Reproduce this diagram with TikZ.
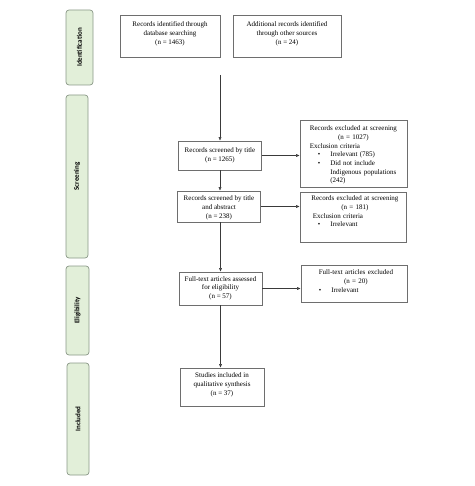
\documentclass[tikz,border=0pt]{standalone}
\usepackage{fontspec}
\setmainfont{Liberation Serif}
\setsansfont{Carlito}
\usepackage{tikz}
\definecolor{phasefill}{HTML}{E2EFD9}
\definecolor{phasedraw}{HTML}{8A9887}
\definecolor{boxdraw}{HTML}{6E6E6E}
\definecolor{linecolor}{HTML}{3A3A3A}
\tikzset{
  box_font/.style = {font=\fontsize{7}{9}\selectfont},
  excl_font/.style = {font=\fontsize{7}{8.7}\selectfont},
  phase_font/.style = {font=\sffamily\bfseries\fontsize{7}{8}\selectfont}
}
\tikzset{
  box/.style = {draw=boxdraw, line width=0.6pt, inner sep=0},
  box_text/.style = {box_font, align=center, anchor=north, inner sep=0, yshift=-6.5},
  excl_text/.style = {excl_font, align=left, anchor=north west, inner sep=0, xshift=10, yshift=-6},
  phase/.style = {phase_font, draw=phasedraw, fill=phasefill, line width=0.7pt, rounded corners=3, rotate=90, inner sep=0},
  arrow/.style = {draw=linecolor, line width=0.5pt, -{Latex[length=3.5pt, width=3pt]}}
}
\usetikzlibrary{arrows.meta, positioning}

\begin{document}
\begin{tikzpicture}[x=1pt, y=-1pt]
        \useasboundingbox (0,0) rectangle (474,486);

        % Phases
        \node[phase, minimum width=75, minimum height=27] at (79.5,47.5) (ph_id) {Identification};
        \node[phase, minimum width=163, minimum height=22] at (77,176.5) (ph_scr) {Screening};
        \node[phase, minimum width=89, minimum height=23] at (77.5,310.5) (ph_elig) {Eligibility};
        \node[phase, minimum width=112, minimum height=22] at (78,419) (ph_inc) {Included};

        % Main boxes
        \node[box, minimum width=100, minimum height=42] at (170,36) (db) {};
        \node[box_text] at (db.north) (db_txt) {
            Records identified through\\ database searching\\ (n = 1463)};
        \node[box, minimum width=108, minimum height=42] at (287,36) (other) {};
        \node[box_text] at (other.north) (other_txt) {
            Additional records identified\\ through other sources\\ (n = 24)};
        \node[box, minimum width=83, minimum height=29] at (220,155.5) (title) {};
        \node[box_text] at (title.north) (title_txt) {
            Records screened by title\\ (n = 1265)};
        \node[box, minimum width=83, minimum height=31] at (219,206.5) (abstract) {};
        \node[box_text, excl_font, yshift=1.5] at (abstract.north) (abstract_txt) {
            Records screened by title\\ and abstract\\ (n = 238)};
        \node[box, minimum width=83, minimum height=33] at (220.5,288.5) (fulltext) {};
        \node[box_text, excl_font, yshift=2] at (fulltext.north) (fulltext_txt) {
            Full-text articles assessed\\ for eligibility\\ (n = 57)};
        \node[box, minimum width=84, minimum height=38] at (222,387) (studies) {};
        \node[box_text, yshift=2] at (studies.north) (studies_txt) {
            Studies included in\\ qualitative synthesis\\ (n = 37)};

        % Excluded boxes
        \node[box, minimum width=107, minimum height=67] at (353.5,153.5) (excl_1) {};
        \node[excl_text, text width=87] at (excl_1.north west) (excl_1_txt) {
            \makebox[\linewidth]{Records excluded at screening}\\
            \makebox[\linewidth]{(n = 1027)}\\
            Exclusion criteria\\
            \begin{tabular}[t]{@{\hspace{8pt}}l@{\hspace{10pt}}l@{}}
            \textbullet & Irrelevant (785)\\
            \textbullet & Did not include\\
                        & Indigenous populations\\
                        & (242)
            \end{tabular}};
        \node[box, minimum width=106, minimum height=50] at (353,217) (excl_2) {};
        \node[excl_text, text width=84, xshift=3, yshift=2] at (excl_2.north west) (excl_2_txt) {
            \makebox[\linewidth]{Records excluded at screening}\\
            \makebox[\linewidth]{(n = 181)}\\
            Exclusion criteria\\
            \begin{tabular}[t]{@{\hspace{5pt}}l@{\hspace{10pt}}l@{}}
            \textbullet & Irrelevant
            \end{tabular}};
        \node[box, minimum width=106, minimum height=37] at (354,283.5) (excl_3) {};
        \node[excl_text, text width=90, yshift=1] at (excl_3.north west) (excl_3_txt) {
            \makebox[\linewidth]{Full-text articles excluded}\\
            \makebox[\linewidth]{(n = 20)}\\
            \begin{tabular}[t]{@{\hspace{8pt}}l@{\hspace{10pt}}l@{}}
            \textbullet & Irrelevant
            \end{tabular}};

        % Arrows and lines
        \coordinate (split) at (220,75);
        \draw[arrow] (split)--(split |- title.north);
        \draw[arrow] (title.south)--(title.south |- abstract.north);
        \draw[arrow] (fulltext.north |- abstract.south)--(fulltext.north);
        \draw[arrow] (fulltext.south)--(fulltext.south |- studies.north);

        \draw[arrow] (title.east)--(title.east -| excl_1.west);
        \draw[arrow] (abstract.east)--(abstract.east -| excl_2.west);
        \draw[arrow] (fulltext.east)--(fulltext.east -| excl_3.west);
    \end{tikzpicture}
\end{document}
